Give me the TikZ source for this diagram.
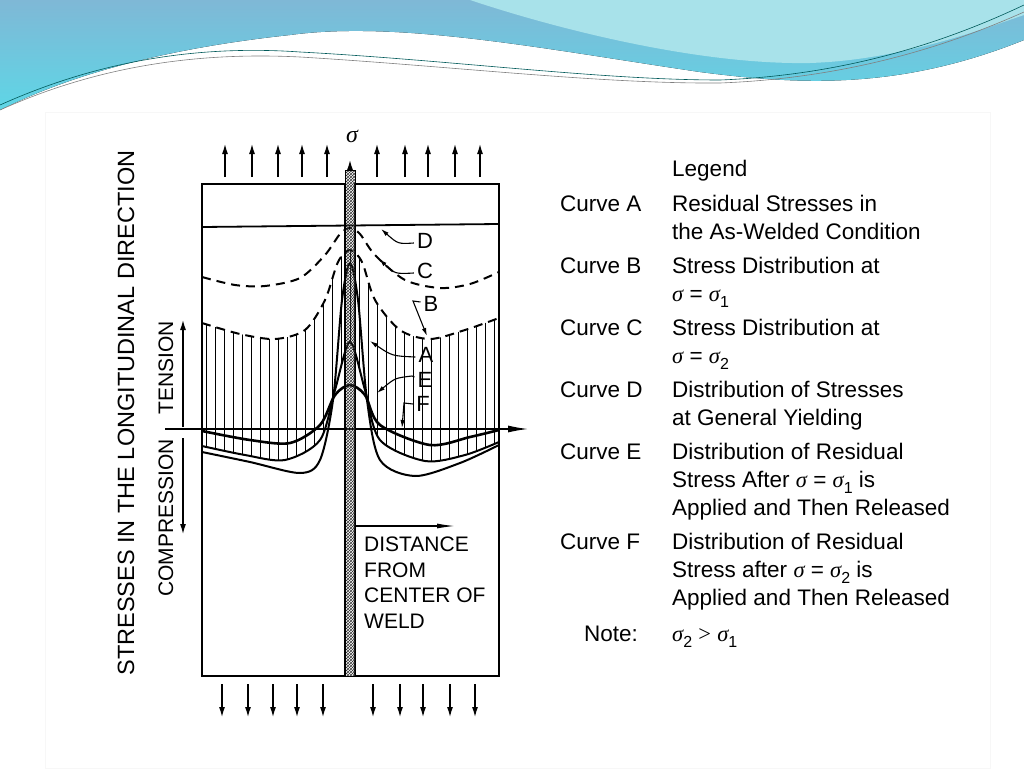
\documentclass[tikz,border=0pt]{standalone}
\usepackage{fontspec}
\setmainfont{Liberation Sans}
\newfontfamily\sgfont{Liberation Serif}
\newcommand\sgm{{\sgfont\itshape σ}}
\newcommand\sgi[1]{\sgm\raisebox{-0.3em}{\footnotesize\fontsize{16}{16}\selectfont #1}}
\usetikzlibrary{patterns,arrows.meta}
\begin{document}
\begin{tikzpicture}[x=1pt,y=-1pt,
  curve/.style={line width=2pt},
  dcurve/.style={line width=2pt,dash pattern=on 9pt off 6pt},
  load/.style={-{Latex[length=10pt,width=6pt]},line width=1.2pt},
  lbl/.style={font=\fontsize{22}{22}\selectfont,inner sep=0pt},
  leg/.style={font=\fontsize{22.5}{22}\selectfont,anchor=base west,inner sep=0pt},
  lead/.style={line width=1.1pt,-{Latex[length=8pt,width=4.5pt]}}]
\useasboundingbox (0,0) rectangle (1024,768);
% header
\definecolor{hb1}{HTML}{7FB8D6}\definecolor{hb2}{HTML}{5ED6E6}\definecolor{hl}{HTML}{A8E2EA}
\fill[top color=hb1,bottom color=hb2] (0,0) -- (1024,0) -- (1024,40) .. controls (900,90) and (800,85) .. (700,72) .. controls (550,50) and (400,20) .. (290,35) .. controls (150,50) and (60,80) .. (0,110) -- cycle;
\fill[hl] (470,0) .. controls (560,30) and (700,65) .. (810,63) .. controls (900,60) and (980,30) .. (1024,15) -- (1024,0) -- cycle;
\draw[teal!70!black,line width=0.6pt] (0,105) .. controls (100,60) and (200,45) .. (300,52) .. controls (450,60) and (600,80) .. (720,80) .. controls (850,75) and (950,40) .. (1024,5);
\draw[gray,line width=0.6pt] (0,110) .. controls (100,65) and (200,52) .. (300,57) .. controls (450,66) and (600,84) .. (720,83) .. controls (850,78) and (950,45) .. (1024,12);
\draw[black!3,line width=1pt] (45,112) rectangle (990,768);
% hatch
\begin{scope}
\clip plot[smooth] coordinates {(202,323) (240,334) (275,339) (305,330) (325,300) (338,262) (350,250) (362,262) (375,300) (400,330) (430,339) (465,330) (499,318)}
 -- plot[smooth] coordinates {(499,442) (465,455) (425,461) (380,440) (365,390) (350,342) (335,390) (320,440) (285,460) (245,455) (202,446)} -- cycle;
\foreach \x in {206,215,...,496} \draw[line width=1pt] (\x,200) -- (\x,480);
\end{scope}
% plates
\draw[line width=1.6pt] (202,184) rectangle (345,676);
\draw[line width=1.6pt] (355,184) rectangle (499,676);
\draw[line width=1.8pt] (202,227) -- (499,224);
% curves
\draw[dcurve] plot[smooth] coordinates {(202,323) (240,334) (275,339) (305,330) (325,300) (338,262) (350,250) (362,262) (375,300) (400,330) (430,339) (465,330) (499,318)};
\draw[dcurve] plot[smooth] coordinates {(202,277) (235,285) (265,286) (300,278) (325,255) (340,234) (350,228) (360,234) (375,255) (405,280) (440,288) (470,284) (499,272)};
\draw[curve] plot[smooth] coordinates {(202,452) (250,462) (300,473) (320,460) (333,400) (342,300) (350,263) (358,300) (367,400) (380,460) (415,476) (460,463) (499,445)};
\draw[curve] plot[smooth] coordinates {(202,446) (245,455) (285,460) (320,440) (335,390) (350,342) (365,390) (380,440) (425,461) (465,455) (499,442)};
\draw[line width=2.6pt] plot[smooth] coordinates {(202,431) (250,440) (290,443) (320,425) (335,395) (350,385) (365,395) (380,425) (430,445) (470,437) (499,430)};
% axis
\coordinate (ax0) at (165,429); \coordinate (ax1) at (528,429);
\draw[-{Latex[length=20pt,width=7pt]},line width=1.2pt] (ax0) -- (ax1);
% weld
\node[draw,line width=1pt,minimum width=10pt,minimum height=506pt,inner sep=0pt,fill=white,pattern=crosshatch,pattern color=black!80] (weld) at (350,423) {};
\coordinate (sigtip) at (350,160);
\draw[load] (weld.north) -- (sigtip);
\node[font=\fontsize{24}{24}\selectfont] (sig) at (352,136) {\sgm};
% loads
\foreach \x in {225,252,278,302,327,377,405,428,455,480} \draw[load] (\x,177) -- (\x,144);
\foreach \x in {222,248,273,297,323,373,400,423,450,475} \draw[load] (\x,684) -- (\x,717);
% labels
\node[lbl] (lD) at (425,241) {D}; \draw[lead] (lD.west) ++(-3,2) .. controls (398,244) .. (381,229);
\node[lbl] (lC) at (425,271) {C}; \draw[lead] (lC.west) ++(-3,2) .. controls (395,274) .. (379,259);
\node[lbl] (lB) at (431,304) {B}; \draw[lead] (lB.west) ++(-3,-2) -- (413,301) -- (427,336);
\node[lbl] (lA) at (426,355) {A}; \draw[lead] (lA.west) ++(-3,2) .. controls (392,356) .. (370,341);
\node[lbl] (lE) at (425,380) {E}; \draw[lead] (lE.west) ++(-3,-3) -- (412,376) .. controls (395,378) .. (377,393);
\node[lbl] (lF) at (423,404) {F}; \draw[lead] (lF.west) ++(-3,0) -- (404,403) -- (402,428);
% distance
\coordinate (d1) at (455,526);
\draw[-{Latex[length=18pt,width=5pt]},line width=1.2pt] (355,526) -- (d1);
\node[lbl,align=left,anchor=north west,font=\fontsize{21}{25.5}\selectfont] (dist) at (364,537) {DISTANCE\\FROM\\CENTER OF\\WELD};
% left labels
\coordinate (t1) at (183,427); \coordinate (t2) at (183,320);
\coordinate (c1) at (183,438); \coordinate (c2) at (183,534);
\draw[load] (t1) -- (t2); \draw[load] (c1) -- (c2);
\node[lbl,rotate=90,font=\fontsize{21}{21}\selectfont] (ten) at (166,368) {TENSION};
\node[lbl,rotate=90,font=\fontsize{21}{21}\selectfont] (comp) at (166,518) {COMPRESSION};
\node[lbl,rotate=90,font=\fontsize{23.5}{23}\selectfont] (big) at (126,413) {STRESSES IN THE LONGITUDINAL DIRECTION};
% legend
\node[leg] (lg) at (672,176) {Legend};
\foreach \y/\c/\a/\b in {211/A/Residual Stresses in/the As-Welded Condition,
  273/B/Stress Distribution at/{\sgm{} = \sgi{1}},
  335/C/Stress Distribution at/{\sgm{} = \sgi{2}},
  397/D/Distribution of Stresses/at General Yielding}
 { \node[leg] at (560,\y) {Curve \c}; \node[leg] at (672,\y) {\a}; \node[leg] at (672,\y+28) {\b}; }
\foreach \y/\c/\a/\b/\d in {459/E/Distribution of Residual/{Stress After \sgm{} = \sgi{1} is}/Applied and Then Released,
  549/F/Distribution of Residual/{Stress after \sgm{} = \sgi{2} is}/Applied and Then Released}
 { \node[leg] at (560,\y) {Curve \c}; \node[leg] at (672,\y) {\a}; \node[leg] at (672,\y+28) {\b}; \node[leg] at (672,\y+56) {\d}; }
\node[leg] (note) at (584,641) {Note:};
\node[leg] (ineq) at (672,641) {\sgi{2} {\sgfont >} \sgi{1}};
\end{tikzpicture}
\end{document}
